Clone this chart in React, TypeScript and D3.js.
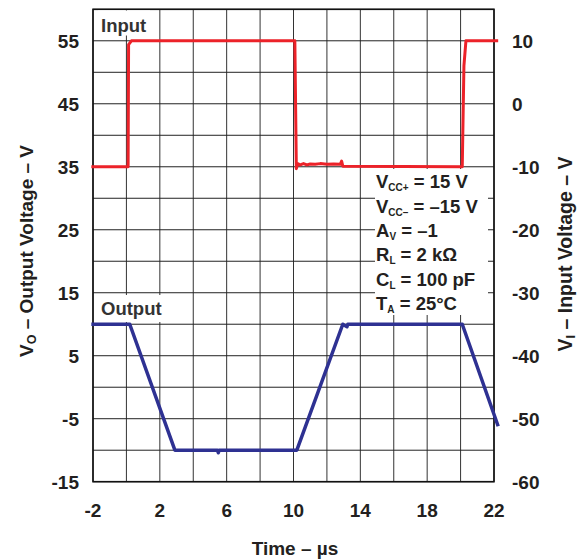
import React from "react";
import * as d3 from "d3";

const W = 587;
const H = 559;

// Time axis (µs)
const timeTicks = [-2, 2, 6, 10, 14, 18, 22];
const leftTicks = [55, 45, 35, 25, 15, 5, -5, -15];
const rightTicks = [10, 0, -10, -20, -30, -40, -50, -60];

// Input series (V, right axis)
const inputTime = [-2.1, 0.1, 0.13, 0.3, 10.08, 10.17, 10.25, 10.4, 10.6, 10.8, 11.0, 11.3, 11.6, 12.0, 12.4, 12.8, 12.88, 12.95, 20.1, 20.2, 20.32, 22.25];
const inputVolt = [-10, -10, 9.4, 10, 10, -10.3, -9.5, -9.7, -9.5, -9.7, -9.55, -9.6, -9.5, -9.6, -9.55, -9.6, -9.1, -9.9, -10, 6, 10, 10];

// Output series (V, left axis)
const outputTime = [-2.1, 0.2, 2.9, 3.0, 5.45, 5.5, 5.55, 10.2, 12.95, 13.2, 13.25, 20.1, 22.25];
const outputVolt = [10, 10, -10, -10, -10, -10.4, -10, -10, 10, 9.6, 10, 10, -6.2];

const annotations = [
  { main: "V", sub: "CC+", rest: " = 15 V" },
  { main: "V", sub: "CC–", rest: " = –15 V" },
  { main: "A", sub: "V", rest: " = –1" },
  { main: "R", sub: "L", rest: " = 2 kΩ" },
  { main: "C", sub: "L", rest: " = 100 pF" },
  { main: "T", sub: "A", rest: " = 25°C" },
];

const FONT = "'Liberation Sans', Arial, Helvetica, sans-serif";
const TXT = "#231f20";

export default function App() {
  const left = 93, right = 494, top = 9.3, bottom = 481.7;
  const x = d3.scaleLinear().domain([-2, 22]).range([left, right]);
  const yL = d3.scaleLinear().domain([-15, 60]).range([bottom, top]);
  const yR = d3.scaleLinear().domain([-60, 15]).range([bottom, top]);

  const vGrid = d3.range(-2, 22.01, 2);
  const hGrid = d3.range(-15, 60.01, 5);

  const inLine = d3.line<number>().x((_, i) => x(inputTime[i])).y((d) => yR(d));
  const outLine = d3.line<number>().x((_, i) => x(outputTime[i])).y((d) => yL(d));

  return (
    <svg width={W} height={H} style={{ position: "absolute", left: 0, top: 0 }} fontFamily={FONT}>
      <rect x={0} y={0} width={W} height={H} fill="#fff" />
      {/* grid */}
      {vGrid.map((t) => (
        <line key={"v" + t} x1={x(t)} x2={x(t)} y1={top} y2={bottom} stroke="#333" strokeWidth={1} />
      ))}
      {hGrid.map((v) => (
        <line key={"h" + v} x1={left} x2={right} y1={yL(v)} y2={yL(v)} stroke="#222" strokeWidth={1} />
      ))}
      <rect x={left} y={top} width={right - left} height={bottom - top} fill="none" stroke="#111" strokeWidth={1.6} />

      {/* label backgrounds */}
      <rect x={98} y={10.5} width={52} height={25} fill="#fff" />
      <rect x={97} y={295} width={69} height={27} fill="#fff" />
      <rect x={375} y={169} width={113} height={146} fill="#fff" />

      {/* series */}
      <path d={inLine(inputVolt) || ""} fill="none" stroke="#ec2229" strokeWidth={3} strokeLinejoin="round" />
      <path d={outLine(outputVolt) || ""} fill="none" stroke="#2e3192" strokeWidth={3.5} strokeLinejoin="round" />

      {/* series labels */}
      <text x={101} y={31.5} fontSize={18.5} fontWeight="bold" fill="#333">Input</text>
      <text x={101} y={315} fontSize={18.5} fontWeight="bold" fill="#333">Output</text>

      {/* annotations */}
      {annotations.map((a, i) => (
        <text key={i} x={376} y={188.3 + i * 24.3} fontSize={18.5} fontWeight="bold" fill={TXT}>
          {a.main}
          <tspan fontSize={10} dy={3}>{a.sub}</tspan>
          <tspan dy={-3}>{a.rest}</tspan>
        </text>
      ))}

      {/* left ticks */}
      {leftTicks.map((v) => (
        <text key={"l" + v} x={79} y={yL(v)} dy="0.36em" textAnchor="end" fontSize={19} fontWeight="bold" fill={TXT}>
          {v}
        </text>
      ))}
      {/* right ticks */}
      {rightTicks.map((v) => (
        <text key={"r" + v} x={512} y={yR(v)} dy="0.36em" textAnchor="start" fontSize={19} fontWeight="bold" fill={TXT}>
          {v}
        </text>
      ))}
      {/* bottom ticks */}
      {timeTicks.map((t) => (
        <text key={"t" + t} x={x(t)} y={517} textAnchor="middle" fontSize={19} fontWeight="bold" fill={TXT}>
          {t}
        </text>
      ))}

      {/* axis titles */}
      <text x={295} y={555} textAnchor="middle" fontSize={19} fontWeight="bold" fill={TXT}>
        Time – µs
      </text>
      <text transform={`translate(33,251) rotate(-90)`} textAnchor="middle" fontSize={19} fontWeight="bold" fill={TXT}>
        V<tspan fontSize={12.5} dy={3}>O</tspan>
        <tspan dy={-3}> – Output Voltage – V</tspan>
      </text>
      <text transform={`translate(572,254) rotate(-90)`} textAnchor="middle" fontSize={19.5} fontWeight="bold" fill={TXT}>
        V<tspan fontSize={12.5} dy={3}>I</tspan>
        <tspan dy={-3}> – Input Voltage – V</tspan>
      </text>
    </svg>
  );
}
